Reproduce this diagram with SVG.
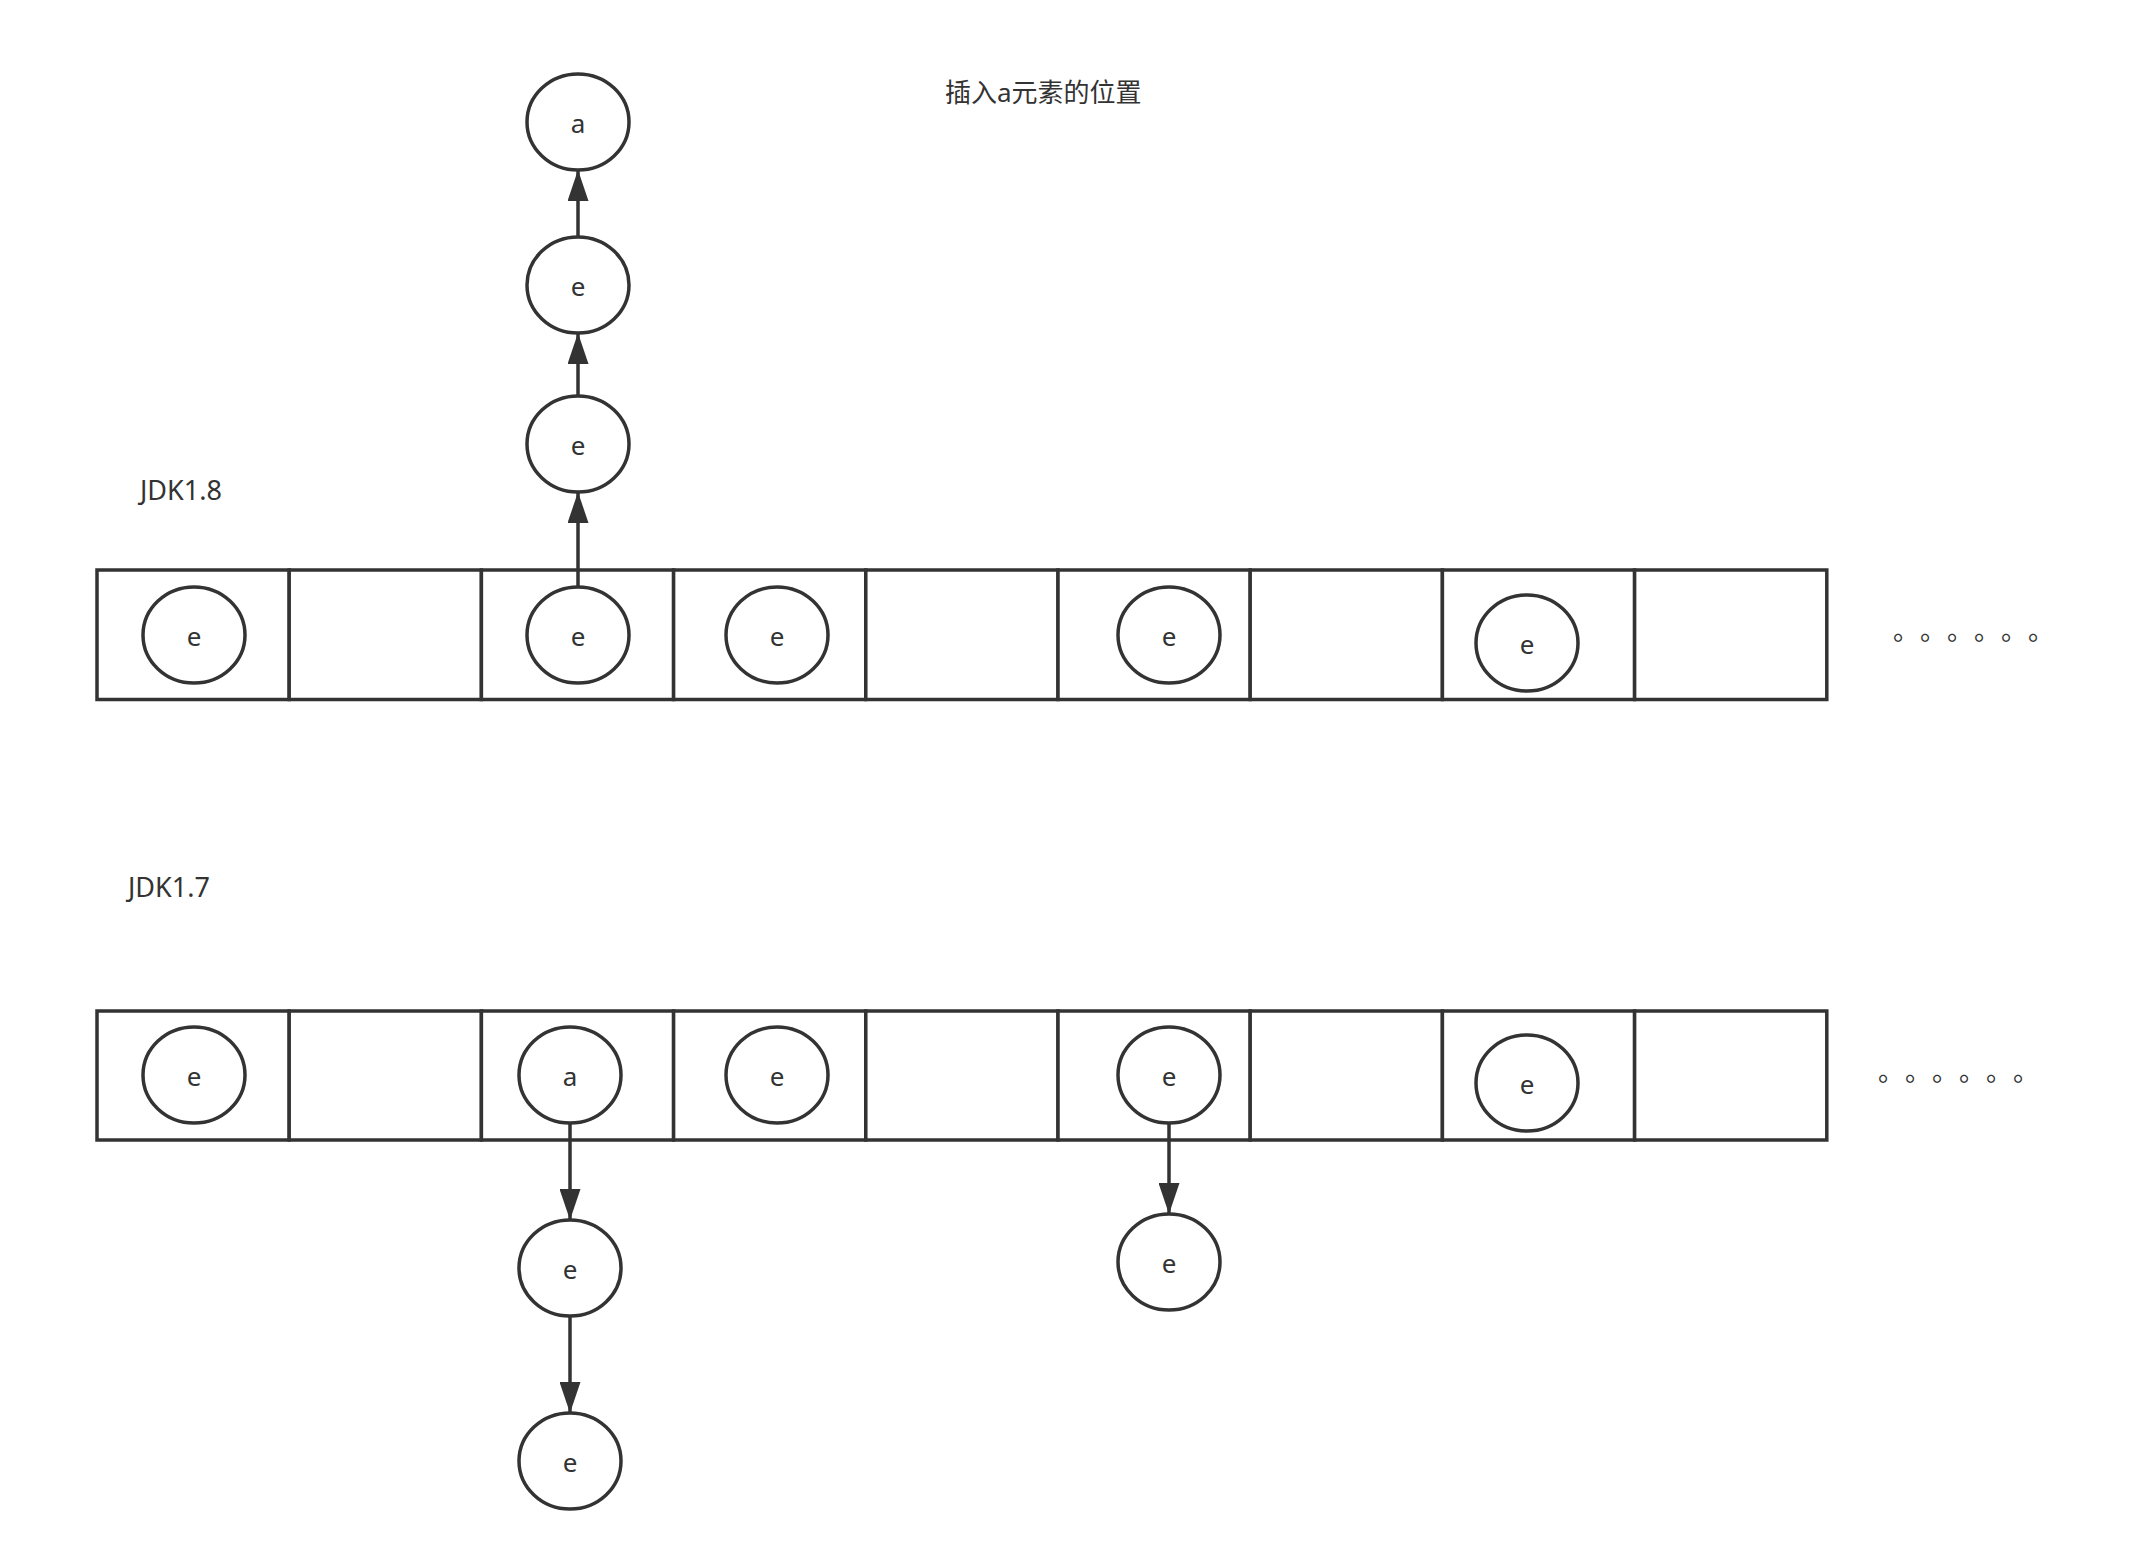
<svg xmlns="http://www.w3.org/2000/svg" width="2142" height="1561" viewBox="0 0 2142 1561">
<defs>
<style>
.cell{fill:#fff;stroke:#333;stroke-width:3.5}
.node{fill:#fff;stroke:#333;stroke-width:3.5}
.lbl{font-family:"Noto Sans","Open Sans","Noto Sans CJK SC",sans-serif;font-size:26px;fill:#333;text-anchor:middle}
.txt{font-family:"Noto Sans","Open Sans","Noto Sans CJK SC",sans-serif;font-size:26px;fill:#333}
.dots{font-family:"Noto Sans CJK SC",sans-serif;font-size:26px;fill:#333}
.edge{stroke:#333;stroke-width:3.5;fill:none}
</style>
<marker id="arr" viewBox="0 0 10 10" refX="10" refY="5" markerWidth="31" markerHeight="21" markerUnits="userSpaceOnUse" orient="auto" preserveAspectRatio="none">
<path d="M0,0 L10,5 L0,10 Z" fill="#333"/>
</marker>
</defs>
<rect width="2142" height="1561" fill="#fff"/>

<g id="bar-jdk18">
<rect class="cell" x="97" y="570" width="192.2" height="129.5"/>
<rect class="cell" x="289.2" y="570" width="192.2" height="129.5"/>
<rect class="cell" x="481.4" y="570" width="192.2" height="129.5"/>
<rect class="cell" x="673.6" y="570" width="192.2" height="129.5"/>
<rect class="cell" x="865.8" y="570" width="192.2" height="129.5"/>
<rect class="cell" x="1058" y="570" width="192.2" height="129.5"/>
<rect class="cell" x="1250.2" y="570" width="192.2" height="129.5"/>
<rect class="cell" x="1442.4" y="570" width="192.2" height="129.5"/>
<rect class="cell" x="1634.6" y="570" width="192.2" height="129.5"/>
</g>

<g id="bar-jdk17">
<rect class="cell" x="97" y="1011" width="192.2" height="129"/>
<rect class="cell" x="289.2" y="1011" width="192.2" height="129"/>
<rect class="cell" x="481.4" y="1011" width="192.2" height="129"/>
<rect class="cell" x="673.6" y="1011" width="192.2" height="129"/>
<rect class="cell" x="865.8" y="1011" width="192.2" height="129"/>
<rect class="cell" x="1058" y="1011" width="192.2" height="129"/>
<rect class="cell" x="1250.2" y="1011" width="192.2" height="129"/>
<rect class="cell" x="1442.4" y="1011" width="192.2" height="129"/>
<rect class="cell" x="1634.6" y="1011" width="192.2" height="129"/>
</g>

<g id="connectors">
<line class="edge" x1="578" y1="587" x2="578" y2="492" marker-end="url(#arr)"/>
<line class="edge" x1="578" y1="396" x2="578" y2="333" marker-end="url(#arr)"/>
<line class="edge" x1="578" y1="236" x2="578" y2="170" marker-end="url(#arr)"/>
<line class="edge" x1="570" y1="1123" x2="570" y2="1220" marker-end="url(#arr)"/>
<line class="edge" x1="570" y1="1314" x2="570" y2="1413" marker-end="url(#arr)"/>
<line class="edge" x1="1169" y1="1123" x2="1169" y2="1214" marker-end="url(#arr)"/>
</g>

<g id="n18-1"><ellipse class="node" cx="194" cy="635" rx="51" ry="48"/><text class="lbl" x="194" y="646">e</text></g>
<g id="n18-3"><ellipse class="node" cx="578" cy="635" rx="51" ry="48"/><text class="lbl" x="578" y="646">e</text></g>
<g id="n18-4"><ellipse class="node" cx="777" cy="635" rx="51" ry="48"/><text class="lbl" x="777" y="646">e</text></g>
<g id="n18-6"><ellipse class="node" cx="1169" cy="635" rx="51" ry="48"/><text class="lbl" x="1169" y="646">e</text></g>
<g id="n18-8"><ellipse class="node" cx="1527" cy="643" rx="51" ry="48"/><text class="lbl" x="1527" y="654">e</text></g>
<g id="n18-c1"><ellipse class="node" cx="578" cy="444" rx="51" ry="48"/><text class="lbl" x="578" y="455">e</text></g>
<g id="n18-c2"><ellipse class="node" cx="578" cy="285" rx="51" ry="48"/><text class="lbl" x="578" y="296">e</text></g>
<g id="n18-a"><ellipse class="node" cx="578" cy="122" rx="51" ry="48"/><text class="lbl" x="578" y="133">a</text></g>

<g id="n17-1"><ellipse class="node" cx="194" cy="1075" rx="51" ry="48"/><text class="lbl" x="194" y="1086">e</text></g>
<g id="n17-a"><ellipse class="node" cx="570" cy="1075" rx="51" ry="48"/><text class="lbl" x="570" y="1086">a</text></g>
<g id="n17-4"><ellipse class="node" cx="777" cy="1075" rx="51" ry="48"/><text class="lbl" x="777" y="1086">e</text></g>
<g id="n17-6"><ellipse class="node" cx="1169" cy="1075" rx="51" ry="48"/><text class="lbl" x="1169" y="1086">e</text></g>
<g id="n17-8"><ellipse class="node" cx="1527" cy="1083" rx="51" ry="48"/><text class="lbl" x="1527" y="1094">e</text></g>
<g id="n17-c1"><ellipse class="node" cx="570" cy="1268" rx="51" ry="48"/><text class="lbl" x="570" y="1279">e</text></g>
<g id="n17-c2"><ellipse class="node" cx="570" cy="1461" rx="51" ry="48"/><text class="lbl" x="570" y="1472">e</text></g>
<g id="n17-6c"><ellipse class="node" cx="1169" cy="1262" rx="51" ry="48"/><text class="lbl" x="1169" y="1273">e</text></g>

<g id="labels">
<text class="txt" x="945" y="102">插入a元素的位置</text>
<text class="txt" x="140" y="500" style="font-size:27px">JDK1.8</text>
<text class="txt" x="128" y="897" style="font-size:27px">JDK1.7</text>
<text class="dots" x="1893 1920 1947 1974 2001 2028" y="640">。。。。。。</text>
<text class="dots" x="1878 1905 1932 1959 1986 2013" y="1081">。。。。。。</text>
</g>
</svg>
